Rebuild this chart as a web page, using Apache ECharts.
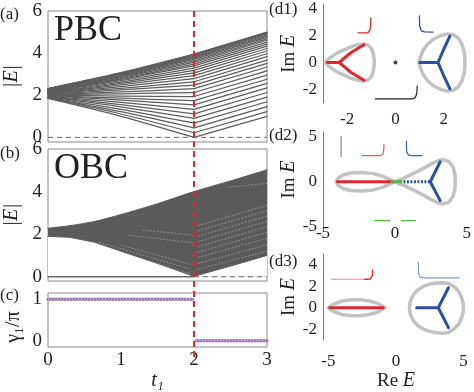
<!DOCTYPE html>
<html><head><meta charset="utf-8">
<script src="https://cdn.jsdelivr.net/npm/echarts@6/dist/echarts.min.js"></script>
<style>html,body{margin:0;padding:0;background:#fff}#c{width:474px;height:392px}</style>
</head><body><div id="c"></div>
<script>
// ---------- DATA ----------
// (a) PBC spectrum: |E| of each band line sampled at t1 = 0,1,2,3
const tPBC = [0, 1, 2, 3];
const pbcLines = [
  [1.85,1.00,0.00,1.00],[1.87,1.11,0.22,1.22],[1.88,1.22,0.45,1.46],[1.90,1.33,0.68,1.69],
  [1.92,1.45,0.90,1.91],[1.93,1.55,1.12,2.13],[1.95,1.66,1.33,2.35],[1.97,1.77,1.54,2.56],
  [1.98,1.86,1.74,2.76],[2.00,1.96,1.94,2.96],[2.02,2.07,2.13,3.16],[2.03,2.16,2.31,3.34],
  [2.05,2.25,2.48,3.51],[2.07,2.33,2.64,3.67],[2.08,2.41,2.79,3.83],[2.10,2.49,2.93,3.97],
  [2.12,2.56,3.06,4.10],[2.13,2.62,3.18,4.22],[2.15,2.69,3.29,4.33],[2.17,2.75,3.39,4.43],
  [2.18,2.79,3.48,4.52],[2.20,2.84,3.56,4.61],[2.22,2.88,3.63,4.68],[2.23,2.92,3.70,4.75],
  [2.25,2.95,3.76,4.81],[2.27,2.99,3.81,4.86],[2.28,3.01,3.86,4.91],[2.30,3.04,3.90,4.95],
  [2.31,3.06,3.93,4.98],[2.32,3.07,3.95,5.00]
];
// (b) OBC spectrum envelope
const tOBC = [0, 0.3, 0.64, 1, 1.5, 2, 2.5, 3];
const obcUpper = [2.28, 2.40, 2.60, 2.92, 3.43, 4.00, 4.50, 5.02];
const obcLower = [1.90, 1.85, 1.62, 1.20, 0.62, 0.02, 0.50, 1.00];
// lighter texture strands inside the OBC band: [t_start, E_start, t_end, E_end]
const obcStrands = [
  [2.05,0.35,3,1.20],[2.05,0.62,3,1.50],[2.05,0.90,3,1.80],[2.05,1.15,3,2.08],
  [2.05,1.40,3,2.35],[2.05,1.65,3,2.60],[2.05,1.90,3,2.85],[2.05,2.15,3,3.10],
  [2.05,2.40,3,3.35],[2.45,4.20,3,4.38],
  [0.45,1.72,1.95,0.14],[0.70,1.62,1.95,0.36],[1.00,1.48,1.95,0.58],
  [1.10,1.95,1.98,1.60],[1.30,2.20,1.98,1.95]
];
const zeroModeEnd = 2;           // OBC zero modes exist for t1 < 2
const tCritical = 2;              // phase transition
// (c) gamma_1/pi
const gammaTopo = [[0,1],[1.98,1]];
const gammaTriv = [[2.03,0],[3,0]];

// (d1)
const d1LoopL = [[-2.92,0],[-2.78,0.25],[-2.55,0.55],[-2.25,0.85],[-1.9,1.12],[-1.6,1.3],[-1.35,1.38],[-1.15,1.3],[-1.0,1.05],[-0.92,0.65],[-0.88,0.2],[-0.88,-0.2],[-0.92,-0.65],[-1.0,-1.05],[-1.15,-1.3],[-1.35,-1.38],[-1.6,-1.3],[-1.9,-1.12],[-2.25,-0.85],[-2.55,-0.55],[-2.78,-0.25],[-2.92,0]];
const d1LoopR = [[0.98,0],[1.03,0.4],[1.13,0.85],[1.3,1.3],[1.55,1.7],[1.85,1.98],[2.15,2.12],[2.4,2.05],[2.6,1.8],[2.75,1.35],[2.84,0.8],[2.87,0.3],[2.87,-0.3],[2.84,-0.8],[2.75,-1.35],[2.6,-1.8],[2.4,-2.05],[2.15,-2.12],[1.85,-1.98],[1.55,-1.7],[1.3,-1.3],[1.13,-0.85],[1.03,-0.4],[0.98,0]];
const d1Red = [[-1.3,1.32],[-1.55,1.05],[-1.85,0.72],[-2.1,0.35],[-2.33,0],[-2.82,0],[-2.33,0],[-2.1,-0.35],[-1.85,-0.72],[-1.55,-1.05],[-1.3,-1.32]];
const d1Blue = [[2.25,1.95],[2.0,1.0],[1.76,0],[1.0,0],[1.76,0],[2.0,-1.0],[2.25,-1.95]];
const d1Zero = [[0,0]];
const d1InsetRed = [[-1.55,2.2],[-1.15,2.2],[-1.07,2.35],[-1.03,2.7],[-1.02,3.3]];
const d1InsetBlue = [[0.99,3.45],[1.0,2.7],[1.07,2.35],[1.2,2.27],[1.55,2.25]];
const d1InsetBlack = [[-0.83,-2.7],[0.7,-2.7],[0.82,-2.6],[0.88,-2.3],[0.9,-1.75]];

// (d2)
const d2LoopL = [[0,0],[-0.4,0.3],[-0.87,0.62],[-1.5,0.9],[-2.3,1.03],[-3.1,0.97],[-3.6,0.75],[-3.95,0.4],[-4.09,0],[-3.95,-0.4],[-3.6,-0.75],[-3.1,-0.97],[-2.3,-1.03],[-1.5,-0.9],[-0.87,-0.62],[-0.4,-0.3],[0,0]];
const d2LoopR = [[0,0],[0.7,0.45],[1.4,1.0],[2.0,1.5],[2.5,1.95],[3.0,2.32],[3.35,2.45],[3.75,2.25],[4.05,1.6],[4.18,0.8],[4.2,0],[4.18,-0.8],[4.05,-1.6],[3.75,-2.25],[3.35,-2.45],[3.0,-2.32],[2.5,-1.95],[2.0,-1.5],[1.4,-1.0],[0.7,-0.45],[0,0]];
const d2Red = [[-4.0,0],[-0.15,0]];
const d2Green = [[-0.2,0],[0.4,0]];
const d2BlueChain = [[0.35,0],[2.46,0]];
const d2Blue = [[3.15,2.2],[2.46,0],[3.15,-2.07]];
const d2InsetGrey = [[-3.74,5.0],[-3.74,2.8]];
const d2InsetRed = [[-2.25,2.89],[-1.0,2.89],[-0.82,3.1],[-0.77,3.6],[-0.76,4.1]];
const d2InsetBlue = [[0.8,4.48],[0.82,3.3],[0.95,2.95],[1.2,2.89],[1.89,2.89]];
const d2InsetGreen = [[-1.38,-4.3],[-0.35,-4.3],null,[0.45,-4.3],[1.45,-4.3]];

// (d3)
const d3LoopL = [[-5.0,0],[-4.6,0.35],[-4.0,0.62],[-3.3,0.75],[-2.6,0.74],[-1.9,0.6],[-1.3,0.38],[-0.81,0],[-1.3,-0.38],[-1.9,-0.6],[-2.6,-0.74],[-3.3,-0.75],[-4.0,-0.62],[-4.6,-0.35],[-5.0,0]];
const d3LoopR = [[0.99,0],[1.05,0.6],[1.28,1.19],[1.6,1.65],[2.02,1.98],[2.5,2.2],[3.01,2.3],[3.45,2.33],[3.88,2.25],[4.3,1.95],[4.62,1.55],[4.85,0.95],[4.97,0.4],[4.99,0],[4.97,-0.4],[4.85,-0.95],[4.62,-1.55],[4.3,-1.95],[3.88,-2.3],[3.45,-2.38],[3.01,-2.33],[2.5,-2.2],[2.02,-1.98],[1.6,-1.65],[1.28,-1.19],[1.05,-0.6],[0.99,0]];
const d3Red = [[-4.9,0],[-0.95,0]];
const d3Blue = [[3.88,1.86],[3.13,0],[1.53,0],[3.13,0],[3.88,-1.85]];
const d3InsetRedThin = [[-4.76,2.65],[-2.0,2.65]];
const d3InsetRed = [[-2.3,2.65],[-1.9,2.66],[-1.8,2.75],[-1.75,3.0],[-1.73,3.5]];
const d3InsetBlue = [[1.65,4.24],[1.67,3.2],[1.8,2.82],[2.1,2.78],[4.67,2.78]];

// tick labels
const leftYTicks = [0, 2, 4, 6];
const gammaTicks = [0, 1];
const d1XTicks = [-2, 0, 2], d1YTicks = [-2, 0, 2, 4];
const d2XTicks = [-5, 0, 5], d2YTicks = [-5, 0, 5];
const d3XTicks = [-5, 0, 5], d3YTicks = [-2, 0, 2, 4];

// ---------- CHART ----------
const FONT = 'Liberation Serif';
const GREY_LINE = '#5d5d5d';
const RED = '#e3262b', BLUE = '#2c4ea3', GREEN = '#55bb3c', LOOP = '#c2c2c2';
const chart = echarts.init(document.getElementById('c'), null, {renderer: 'canvas'});

function lbl(extra) {
  return Object.assign({fontFamily: FONT, fontSize: 19, color: '#222'}, extra || {});
}
function hiddenX(gi, min, max) {
  return {type: 'value', gridIndex: gi, min: min, max: max, axisLine: {show: false, onZero: false},
    axisTick: {show: false}, axisLabel: {show: false}, splitLine: {show: false}};
}
const rich = {
  i: {fontFamily: FONT, fontStyle: 'italic', fontSize: 20, color: '#222'},
  r: {fontFamily: FONT, fontSize: 19, color: '#222'}
};

const grids = [
  {left: 48, top: 11, width: 219, height: 131},
  {left: 48, top: 149, width: 219, height: 132},
  {left: 48, top: 293, width: 219, height: 64},
  {left: 323, top: 3, width: 145, height: 100},
  {left: 323, top: 132, width: 145, height: 95},
  {left: 323, top: 254, width: 146, height: 100},
  {left: 48, top: 11, width: 219, height: 346}
].map((g, i) => Object.assign({show: i < 3, borderColor: '#8a8a8a', borderWidth: 1, backgroundColor: 'transparent', containLabel: false}, g));

function dX(gi, min, max, ticks, margin, extra) {
  return Object.assign({type: 'value', gridIndex: gi, min: min, max: max,
    axisLine: {show: false, onZero: false}, axisTick: {show: false},
    splitLine: {show: false}, axisLabel: lbl({fontSize: 17, margin: margin, customValues: ticks})}, extra || {});
}
const xAxes = [
  hiddenX(0, 0, 3),
  hiddenX(1, 0, 3),
  {type: 'value', gridIndex: 2, min: 0, max: 3, interval: 1, axisLine: {show: false, onZero: false}, axisTick: {show: false},
   splitLine: {show: false}, axisLabel: lbl({margin: 4}),
   name: 't₁', nameLocation: 'middle', nameGap: 24,
   nameTextStyle: {fontFamily: FONT, fontStyle: 'italic', fontSize: 20, color: '#222'}},
  dX(3, -3, 3, d1XTicks, 8),
  dX(4, -5, 5, d2XTicks, -2),
  dX(5, -5.4, 5.4, d3XTicks, 13,
     {name: '{r|Re }{i|E}', nameLocation: 'middle', nameGap: 31, nameTextStyle: {rich: rich}}),
  hiddenX(6, 0, 3)
];
function leftY(gi, min, max, ticks, name) {
  return {type: 'value', gridIndex: gi, min: min, max: max, axisLine: {show: false, onZero: false}, axisTick: {show: false},
    splitLine: {show: false}, axisLabel: lbl({margin: 6, customValues: ticks}),
    name: name, nameLocation: 'middle', nameRotate: 90, nameGap: 26, nameTextStyle: {rich: rich}};
}
function rightY(gi, min, max, ticks) {
  return {type: 'value', gridIndex: gi, min: min, max: max,
    axisLine: {show: true, onZero: false, lineStyle: {color: '#7a7a7a', width: 1}}, axisTick: {show: false},
    splitLine: {show: false}, axisLabel: lbl({fontSize: 17, margin: 6, customValues: ticks}),
    name: '{r|Im }{i|E}', nameLocation: 'middle', nameRotate: 90, nameGap: 24, nameTextStyle: {rich: rich}};
}
const yAxes = [
  leftY(0, -0.22, 6, leftYTicks, '{i||E|}'),
  leftY(1, -0.2, 6, leftYTicks, '{i||E|}'),
  leftY(2, -0.15, 1.15, gammaTicks, ''),
  rightY(3, -3, 4.3, d1YTicks),
  rightY(4, -5, 5.5, d2YTicks),
  rightY(5, -3, 5, d3YTicks),
  {type: 'value', gridIndex: 6, min: 0, max: 1, show: false}
];

const series = [];
function line(gi, data, color, width, extra) {
  series.push(Object.assign({type: 'line', xAxisIndex: gi, yAxisIndex: gi, data: data, showSymbol: false,
    symbol: 'none', silent: true, connectNulls: false,
    lineStyle: {color: color, width: width, cap: 'round', join: 'round'}}, extra || {}));
}
// (a): smooth for t1 <= 2, straight for t1 >= 2
pbcLines.forEach(v => {
  const pts = tPBC.map((t, j) => [t, v[j]]);
  line(0, pts.slice(0, 3), GREY_LINE, 1.25, {smooth: 0.3});
  line(0, pts.slice(2), GREY_LINE, 1.25);
});
line(0, [[0, 0], [3, 0]], '#6a6a6a', 1, {lineStyle: {color: '#6a6a6a', width: 1, type: [5, 4]}});
// (b)
line(1, tOBC.map((t, j) => [t, obcUpper[j]]), '#5a5a5a', 1, {smooth: 0.25, areaStyle: {color: '#5a5a5a', opacity: 1, origin: 0}});
line(1, tOBC.map((t, j) => [t, obcLower[j]]), '#5a5a5a', 1, {areaStyle: {color: '#ffffff', opacity: 1, origin: 0}});
obcStrands.forEach(s => line(1, [[s[0], s[1]], [s[2], s[3]]], 'rgba(235,235,235,0.45)', 0.8,
  {lineStyle: {color: 'rgba(235,235,235,0.45)', width: 0.8, type: [2, 1.5]}}));
line(1, [[0, 0], [zeroModeEnd, 0]], '#6a6a6a', 1.3);
line(1, [[zeroModeEnd, 0], [3, 0]], '#6a6a6a', 1, {lineStyle: {color: '#6a6a6a', width: 1, type: [5, 4]}});
// (c)
[gammaTopo, gammaTriv].forEach(d => {
  line(2, d, '#9a76b4', 3.2);
  line(2, d, '#e6dcef', 1, {lineStyle: {color: '#e6dcef', width: 1, type: [1, 2]}});
});
// red critical line
line(6, [[tCritical, 0], [tCritical, 1]], RED, 2, {lineStyle: {color: RED, width: 2, type: [6, 4]}, z: 10});
// (d1)
line(3, d1LoopL, LOOP, 3.5);
line(3, d1LoopR, LOOP, 3.5);
line(3, d1Red, RED, 3);
line(3, d1Blue, BLUE, 3);
series.push({type: 'scatter', xAxisIndex: 3, yAxisIndex: 3, data: d1Zero, symbolSize: 4, itemStyle: {color: '#111'}, silent: true});
line(3, d1InsetRed, RED, 1.3);
line(3, d1InsetBlue, BLUE, 1.3);
line(3, d1InsetBlack, '#222', 1.2);
// (d2)
line(4, d2LoopL, LOOP, 3.5);
line(4, d2LoopR, LOOP, 3.5);
line(4, d2Red, RED, 3);
line(4, d2BlueChain, BLUE, 3, {lineStyle: {color: BLUE, width: 3, type: [2, 1.5]}});
line(4, d2Blue, BLUE, 3);
line(4, d2Green, GREEN, 3);
line(4, d2InsetGrey, '#8a8a8a', 1.2);
line(4, d2InsetRed, '#e85a5a', 1.2);
line(4, d2InsetBlue, '#3b5fae', 1.2);
line(4, d2InsetGreen, GREEN, 1.3);
// (d3)
line(5, d3LoopL, LOOP, 3.5);
line(5, d3LoopR, LOOP, 3.5);
line(5, d3Red, RED, 3);
line(5, d3Blue, BLUE, 3);
line(5, d3InsetRedThin, '#f08a8a', 1.2);
line(5, d3InsetRed, RED, 1.4);
line(5, d3InsetBlue, '#7d9ad0', 1.2);

function txt(x, y, s, size) {
  return {type: 'text', left: x, top: y, z: 20, silent: true,
    style: {text: s, fontFamily: FONT, fontSize: size, fill: '#222'}};
}
chart.setOption({
  animation: false,
  backgroundColor: '#fff',
  grid: grids, xAxis: xAxes, yAxis: yAxes, series: series,
  graphic: [
    txt(0, 6, '(a)', 17), txt(0, 145, '(b)', 17), txt(0, 287, '(c)', 17),
    txt(269, 1, '(d1)', 17), txt(269, 127, '(d2)', 17), txt(269, 253, '(d3)', 17),
    txt(54, 13, 'PBC', 36), txt(54, 151, 'OBC', 36),
    {type: 'text', x: 14, y: 327, rotation: Math.PI / 2, z: 20, silent: true,
     style: {text: 'γ₁/π', fontFamily: FONT, fontSize: 20, fill: '#222', align: 'center', verticalAlign: 'middle'}}
  ]
});
</script></body></html>
